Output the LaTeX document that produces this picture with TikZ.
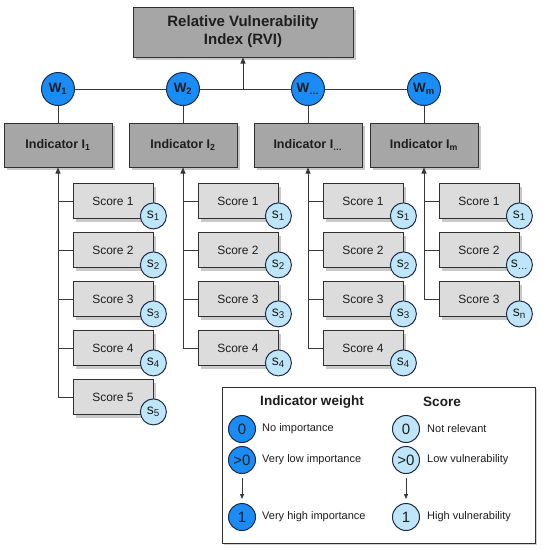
\documentclass[tikz,border=0pt]{standalone}
\usepackage{fontspec}
\setmainfont{Liberation Sans}
\usetikzlibrary{arrows.meta,shadows}
\definecolor{boxgray}{HTML}{A6A6A6}
\definecolor{scoregray}{HTML}{DCDCDC}
\definecolor{edge}{HTML}{303030}
\definecolor{navy}{HTML}{1C2B4A}
\definecolor{wblue}{HTML}{1A8CF5}
\definecolor{sblue}{HTML}{BFE6F8}
\definecolor{linegray}{HTML}{383838}
\definecolor{txt}{HTML}{1E1E1E}
\begin{document}
\begin{tikzpicture}[x=1pt,y=-1pt,
  shad/.style={drop shadow={shadow xshift=3pt,shadow yshift=-3pt,fill=black!35,opacity=0.6}},
  smallshad/.style={drop shadow={shadow xshift=2pt,shadow yshift=-2pt,fill=black!35,opacity=0.5}},
  bigbox/.style={draw=edge,fill=boxgray,line width=1pt,minimum width=220pt,minimum height=50pt,
    font=\bfseries\fontsize{15}{18}\selectfont,align=center,text=txt,shad},
  indbox/.style={draw=edge,fill=boxgray,line width=1pt,minimum width=108pt,minimum height=44pt,
    font=\bfseries\fontsize{12.5}{14}\selectfont,text=txt,shad},
  scorebox/.style={draw=edge,fill=scoregray,line width=0.8pt,minimum width=80pt,minimum height=35pt,
    font=\fontsize{12}{14}\selectfont,text=txt,shad},
  wcirc/.style={circle,draw=navy,fill=wblue,line width=1pt,minimum size=33pt,inner sep=0pt,
    font=\bfseries\fontsize{13.5}{15}\selectfont,text=txt},
  scirc/.style={circle,draw=navy,fill=sblue,line width=1pt,minimum size=26pt,inner sep=0pt,
    font=\fontsize{14}{15}\selectfont,text=txt},
  lwcirc/.style={circle,draw=navy,fill=wblue,line width=1pt,minimum size=27pt,inner sep=0pt,
    font=\fontsize{15}{16}\selectfont,text=txt},
  lscirc/.style={circle,draw=navy,fill=sblue,line width=1pt,minimum size=27pt,inner sep=0pt,
    font=\fontsize{15}{16}\selectfont,text=txt},
  lhead/.style={font=\bfseries\fontsize{13.5}{16}\selectfont,text=txt},
  llabel/.style={anchor=west,font=\fontsize{11}{13}\selectfont,text=txt,inner sep=0pt},
  conn/.style={draw=linegray,line width=0.8pt},
  arr/.style={conn,-{Triangle[length=6pt,width=5pt]}},
  larr/.style={conn,-{Triangle[length=5pt,width=4pt]}},
]
\useasboundingbox (0,0) rectangle (542,550);
\fill[white] (0,0) rectangle (542,550);

% top box
\node[bigbox] (R) at (243,32) {Relative Vulnerability\\Index (RVI)};

% columns
\foreach \c/\tx/\n/\sub in {1/58/5/1, 2/183/4/2, 3/308/4/{\ldots}, 4/424/3/m} {
  \node[indbox] (I\c) at (\tx,145) {Indicator I\textsubscript{\sub}};
  \node[wcirc] (W\c) at (\tx,89) {W\textsubscript{\sub}};
  \draw[conn] (W\c) -- (I\c);
  \foreach \k in {1,...,\n} {
    \pgfmathsetmacro\yy{201+49*(\k-1)}
    \node[scorebox] (S\c-\k) at (\tx+55,\yy) {Score \k};
    \coordinate (T\c-\k) at (\tx,\yy);
    \draw[conn] (T\c-\k) -- (S\c-\k.west);
  }
  \draw[arr] (T\c-\n) -- (I\c.south);
}

% score circles
\foreach \c/\n in {1/5, 2/4, 3/4} {
  \foreach \k in {1,...,\n} {
    \node[scirc] (s\c-\k) at ([yshift=3pt]S\c-\k.south east) {s\textsubscript{\k}};
  }
}
\node[scirc] (s4-1) at ([yshift=3pt]S4-1.south east) {s\textsubscript{1}};
\node[scirc] (s4-2) at ([yshift=3pt]S4-2.south east) {s\textsubscript{\ldots}};
\node[scirc] (s4-3) at ([yshift=3pt]S4-3.south east) {s\textsubscript{n}};

% weight line
\draw[conn] (W1) -- (W2);
\draw[conn] (W2) -- (W3);
\draw[conn] (W3) -- (W4);
\coordinate (J) at (243,89);
\draw[arr] (J) -- (R.south);

% legend
\node[draw=edge,fill=white,line width=1pt,minimum width=313pt,minimum height=156pt,smallshad] (L) at (378.5,465) {};
\node[lhead] (H1) at (312,402) {Indicator weight};
\node[lhead] (H2) at (442,402) {Score};

\node[lwcirc] (A1) at (242,429) {0};
\node[lwcirc] (A2) at (242,460) {>0};
\node[lwcirc] (A3) at (242,517) {1};
\draw[larr,shorten <=4pt,shorten >=4pt] (A2) -- (A3);
\node[llabel] (AL1) at (262,429) {No importance};
\node[llabel] (AL2) at (262,460) {Very low importance};
\node[llabel] (AL3) at (262,517) {Very high importance};

\node[lscirc] (B1) at (406,429) {0};
\node[lscirc] (B2) at (406,460) {>0};
\node[lscirc] (B3) at (406,517) {1};
\draw[larr,shorten <=4pt,shorten >=4pt] (B2) -- (B3);
\node[llabel] (BL1) at (427,429) {Not relevant};
\node[llabel] (BL2) at (427,460) {Low vulnerability};
\node[llabel] (BL3) at (427,517) {High vulnerability};
\end{tikzpicture}
\end{document}
